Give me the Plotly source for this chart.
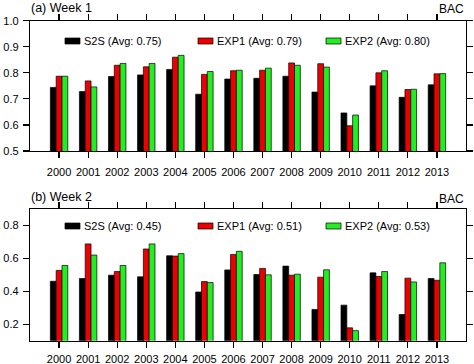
import plotly.graph_objects as go

W, H = 474, 364

years = list(range(2000, 2014))
series_names = ["S2S", "EXP1", "EXP2"]
series_colors = ["#000000", "#ee0000", "#22ee22"]

# Week 1 BAC
week1_s2s = [0.744, 0.728, 0.786, 0.792, 0.813, 0.718, 0.776, 0.779, 0.787, 0.726, 0.646, 0.750, 0.706, 0.754]
week1_exp1 = [0.787, 0.769, 0.829, 0.823, 0.860, 0.794, 0.808, 0.810, 0.838, 0.835, 0.597, 0.800, 0.736, 0.796]
week1_exp2 = [0.787, 0.746, 0.836, 0.836, 0.867, 0.805, 0.810, 0.818, 0.829, 0.822, 0.638, 0.808, 0.737, 0.797]
week1_avg = ["0.75", "0.79", "0.80"]

# Week 2 BAC
week2_s2s = [0.461, 0.478, 0.498, 0.488, 0.616, 0.396, 0.530, 0.502, 0.553, 0.290, 0.316, 0.512, 0.259, 0.478]
week2_exp1 = [0.527, 0.688, 0.520, 0.657, 0.614, 0.459, 0.624, 0.539, 0.498, 0.486, 0.178, 0.490, 0.480, 0.467]
week2_exp2 = [0.557, 0.620, 0.557, 0.688, 0.629, 0.453, 0.643, 0.500, 0.504, 0.531, 0.161, 0.520, 0.457, 0.573]
week2_avg = ["0.45", "0.51", "0.53"]

panel_titles = ["(a) Week 1", "(b) Week 2"]
right_label = "BAC"
week1_ticks = [0.5, 0.6, 0.7, 0.8, 0.9, 1.0]
week2_ticks = [0.2, 0.4, 0.6, 0.8]

FONT = "Liberation Sans, Arial, Helvetica, sans-serif"

# plot area edges in pixels
L, R = 30, 466


def px(x):
    return (x - L) / (R - L)


def py(y):
    return (H - y) / H


fig = go.Figure()

panels = [
    ([week1_s2s, week1_exp1, week1_exp2], "x", "y"),
    ([week2_s2s, week2_exp1, week2_exp2], "x2", "y2"),
]
for vals, xa, ya in panels:
    for name, color, v in zip(series_names, series_colors, vals):
        fig.add_trace(go.Bar(
            x=years, y=v, name=name, xaxis=xa, yaxis=ya,
            marker=dict(color=color, line=dict(color="#000000", width=0.7)),
            showlegend=False, hoverinfo="skip",
        ))

axis_common = dict(
    showline=True, linecolor="#000000", linewidth=1.2, mirror="ticks",
    ticks="outside", ticklen=6, tickwidth=1.2, tickcolor="#000000",
    showgrid=False, zeroline=False, automargin=False,
    tickfont=dict(family=FONT, size=11, color="#000000"),
)

fig.update_layout(
    width=W, height=H,
    margin=dict(l=L, r=W - R, t=0, b=0, autoexpand=False),
    paper_bgcolor="white", plot_bgcolor="white",
    barmode="group", bargap=0.4, bargroupgap=0,
    showlegend=False,
    xaxis=dict(domain=[0, 1], range=[1999, 2014], tickvals=years,
               ticktext=[str(y) for y in years], anchor="y",
               ticklabelstandoff=5, **axis_common),
    yaxis=dict(domain=[py(151), py(20.7)], range=[0.5, 1.0], tickvals=week1_ticks,
               ticktext=[f"{t:.1f}" for t in week1_ticks], anchor="x",
               ticklabelstandoff=2, **axis_common),
    xaxis2=dict(domain=[0, 1], range=[1999, 2014], tickvals=years,
                ticktext=[str(y) for y in years], anchor="y2",
                ticklabelstandoff=2, **axis_common),
    yaxis2=dict(domain=[py(340.7), py(209)], range=[0.1, 0.9], tickvals=week2_ticks,
                ticktext=[f"{t:.1f}" for t in week2_ticks], anchor="x2",
                ticklabelstandoff=2, **axis_common),
)

annotations = []
shapes = []
title_y = [8, 197]
bac_y = [9, 199]
legend_y = [41, 226]
legend_box_x = [65, 198, 326]
avgs = [week1_avg, week2_avg]

for i in range(2):
    annotations.append(dict(
        text=panel_titles[i], xref="paper", yref="paper",
        x=px(29), y=py(title_y[i]), xanchor="left", yanchor="middle",
        showarrow=False, font=dict(family=FONT, size=12.5, color="#000000"),
    ))
    annotations.append(dict(
        text=right_label, xref="paper", yref="paper",
        x=px(466), y=py(bac_y[i]), xanchor="right", yanchor="middle",
        showarrow=False, font=dict(family=FONT, size=12, color="#000000"),
    ))
    for j in range(3):
        bx = legend_box_x[j]
        ly = legend_y[i]
        shapes.append(dict(
            type="rect", xref="paper", yref="paper",
            x0=px(bx), x1=px(bx + 15), y0=py(ly + 3), y1=py(ly - 3),
            fillcolor=series_colors[j], line=dict(color="#000000", width=0.7),
        ))
        annotations.append(dict(
            text=f"{series_names[j]} (Avg: {avgs[i][j]})", xref="paper", yref="paper",
            x=px(bx + 17), y=py(ly), xanchor="left", yanchor="middle",
            showarrow=False, font=dict(family=FONT, size=11, color="#000000"),
        ))

fig.update_layout(annotations=annotations, shapes=shapes)

# remove the browser's default 8px body margin so the figure fills the window
fig.write_html("out.html", config={"displayModeBar": False, "staticPlot": True},
               post_script="document.body.style.margin='0';")
